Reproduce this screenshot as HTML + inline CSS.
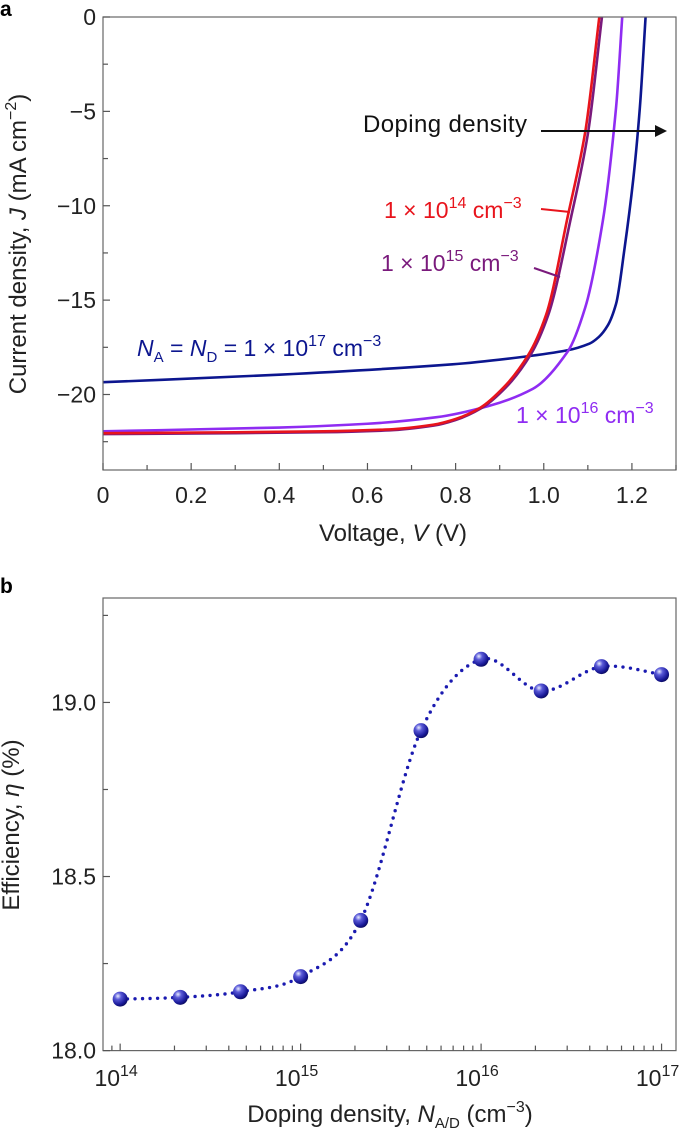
<!DOCTYPE html>
<html><head><meta charset="utf-8"><style>
html,body{margin:0;padding:0;background:#fff;}
svg{display:block;font-family:"Liberation Sans",sans-serif;}
</style></head><body>
<svg id="chart" width="685" height="1129" viewBox="0 0 685 1129" xmlns="http://www.w3.org/2000/svg">
<defs>
<radialGradient id="ball" cx="0.35" cy="0.3" r="0.75">
<stop offset="0" stop-color="#e8ecff"/><stop offset="0.3" stop-color="#5a5ad8"/><stop offset="0.75" stop-color="#1a1a9a"/><stop offset="1" stop-color="#0a0a5a"/>
</radialGradient>
</defs>
<text x="0" y="16" font-size="21" font-weight="bold">a</text>
<text x="0" y="593" font-size="21" font-weight="bold">b</text>
<g id="pa"></g>
<g id="pb"></g>
</svg>
<script>
// Panel a data
const redV=[0,0.3,0.5,0.65,0.75,0.8,0.856,0.91,0.965,1.005,1.055,1.094,1.126];
const redJ=[-22.05,-22.0,-21.95,-21.85,-21.6,-21.3,-20.7,-19.6,-17.9,-15.8,-10.5,-6.1,0];
const purpleV=[0,0.3,0.5,0.65,0.75,0.8,0.86,0.915,0.97,1.01,1.062,1.1,1.132];
const purpleJ=[-22.1,-22.05,-22.0,-21.9,-21.65,-21.35,-20.7,-19.6,-17.9,-15.8,-10.6,-6.2,0];
const violetV=[0,0.4,0.6,0.757,0.876,0.975,1.055,1.094,1.134,1.164,1.178];
const violetJ=[-21.95,-21.75,-21.55,-21.2,-20.6,-19.7,-17.7,-15.4,-10.8,-4.8,0];
const blueV=[0,0.4,0.793,0.955,1.055,1.104,1.125,1.145,1.164,1.183,1.203,1.218,1.231];
const blueJ=[-19.35,-18.95,-18.4,-18.0,-17.65,-17.3,-16.95,-16.35,-15.2,-12.3,-8.6,-4.8,0];
const aXTicks=[0,0.2,0.4,0.6,0.8,1.0,1.2];
const aXTickLabels=["0","0.2","0.4","0.6","0.8","1.0","1.2"];
const aYTicks=[0,-5,-10,-15,-20];
const aYTickLabels=["0","\u22125","\u221210","\u221215","\u221220"];
// Panel b data
const bLogN=[14,14.333,14.667,15,15.333,15.667,16,16.333,16.667,17];
const bEff=[18.148,18.153,18.169,18.2125,18.374,18.919,19.124,19.033,19.103,19.080];
const bYTicks=[18.0,18.5,19.0];
const bYTickLabels=["18.0","18.5","19.0"];
const bXTicks=[14,15,16,17];

const NS="http://www.w3.org/2000/svg";
function mk(parent,tag,attrs){const e=document.createElementNS(NS,tag);for(const k in attrs)e.setAttribute(k,attrs[k]);parent.appendChild(e);return e;}

// ---- Panel a ----
const pa=document.getElementById('pa');
const aL=103,aR=676,aT=17,aB=470;
const ax=v=>aL+(v-0)/1.3*(aR-aL);
const ay=j=>aT+(0-j)/24*(aB-aT);
function monotonePath(xs,ys){
  const n=xs.length,d=[],m=[];
  for(let i=0;i<n-1;i++)d.push((ys[i+1]-ys[i])/(xs[i+1]-xs[i]));
  m[0]=d[0];m[n-1]=d[n-2];
  for(let i=1;i<n-1;i++){m[i]=(d[i-1]*d[i]<=0)?0:3*(d[i-1]+d[i])/((2*d[i]+d[i-1])/d[i-1]+(d[i]+2*d[i-1])/d[i]);}
  let p=`M${xs[0]},${ys[0]}`;
  for(let i=0;i<n-1;i++){const h=xs[i+1]-xs[i];p+=` C${xs[i]+h/3},${ys[i]+m[i]*h/3} ${xs[i+1]-h/3},${ys[i+1]-m[i+1]*h/3} ${xs[i+1]},${ys[i+1]}`;}
  return p;
}
const series=[[blueV,blueJ,'#0c168f','curve-1e17'],[violetV,violetJ,'#8f2cf2','curve-1e16'],[purpleV,purpleJ,'#7a1a7c','curve-1e15'],[redV,redJ,'#e8141c','curve-1e14']];
series.forEach(s=>{
  const p=mk(pa,'path',{d:monotonePath(s[0].map(ax),s[1].map(ay)),fill:'none',stroke:s[2],'stroke-width':2.6});
  
  
});
const fa=mk(pa,'rect',{x:aL,y:aT,width:aR-aL,height:aB-aT,fill:'none',stroke:'#666','stroke-width':1.2});


for(let v=0;v<=1.3001;v+=0.1){const X=ax(v);const major=Math.abs(v*5-Math.round(v*5))<1e-6;mk(pa,'line',{x1:X,x2:X,y1:aB,y2:aB-(major?7:5),stroke:'#555','stroke-width':1.2});}
for(let j=0;j>=-22.5;j-=2.5){const Y=ay(j);const major=j%5===0;mk(pa,'line',{x1:aL,x2:aL+(major?7:5),y1:Y,y2:Y,stroke:'#555','stroke-width':1.2});}
aXTicks.forEach((v,i)=>{const t=mk(pa,'text',{x:ax(v),y:503,'font-size':23,'text-anchor':'middle',fill:'#222'});t.textContent=aXTickLabels[i];
 
 });
aYTicks.forEach((v,i)=>{const t=mk(pa,'text',{x:aL-7,y:ay(v)+8,'font-size':23,'text-anchor':'end',fill:'#222'});t.textContent=aYTickLabels[i];
 
 });

// ---- Panel b ----
const pb=document.getElementById('pb');
const bL=103,bR=676,bT=598,bB=1050.6;
const bx=l=>bL+(l-13.905)/(17.08-13.905)*(bR-bL);
const by=e=>bB-(e-18)/1.3*(bB-bT);
const fb=mk(pb,'rect',{x:bL,y:bT,width:bR-bL,height:bB-bT,fill:'none',stroke:'#666','stroke-width':1.2});


for(let d=13;d<=17;d++){for(let k=1;k<=9;k++){const l=d+Math.log10(k);if(l<13.905||l>17.08)continue;const X=bx(l);mk(pb,'line',{x1:X,x2:X,y1:bB,y2:bB-(k===1?7:5),stroke:'#555','stroke-width':1.2});}}
for(let e=18;e<=19.26;e+=0.25){const Y=by(e);const major=Math.abs(e*2-Math.round(e*2))<1e-6;mk(pb,'line',{x1:bL,x2:bL+(major?7:5),y1:Y,y2:Y,stroke:'#555','stroke-width':1.2});}
bYTicks.forEach((v,i)=>{const t=mk(pb,'text',{x:bL-7,y:by(v)+8,'font-size':23,'text-anchor':'end',fill:'#222'});t.textContent=bYTickLabels[i];
 
 });
bXTicks.forEach(l=>{const t=mk(pb,'text',{x:bx(l)-4,y:1086,'font-size':23,'text-anchor':'middle',fill:'#222'});
 
 
 const a=mk(t,'tspan',{});a.textContent='10';const b=mk(t,'tspan',{dy:-10,'font-size':16});b.textContent=String(l);});
// catmull-rom dotted curve
const px=bLogN.map(bx),py=bEff.map(by);
let dp=`M${px[0]},${py[0]}`;
for(let i=0;i<px.length-1;i++){const p0=i?i-1:0,p3=i+2<px.length?i+2:i+1;
 dp+=` C${px[i]+(px[i+1]-px[p0])/6},${py[i]+(py[i+1]-py[p0])/6} ${px[i+1]-(px[p3]-px[i])/6},${py[i+1]-(py[p3]-py[i])/6} ${px[i+1]},${py[i+1]}`;}
const dc=mk(pb,'path',{d:dp,fill:'none',stroke:'#1a1ab0','stroke-width':3.4,'stroke-linecap':'round','stroke-dasharray':'0 7.5'});


bLogN.forEach((l,i)=>{const c=mk(pb,'circle',{cx:bx(l),cy:by(bEff[i]),r:7.5,fill:'url(#ball)'});
 
 });
</script>
<svg style="position:absolute;left:0;top:0" width="685" height="1129" xmlns="http://www.w3.org/2000/svg" font-family="Liberation Sans, sans-serif">
<text x="363" y="132" font-size="24" fill="#111" textLength="164">Doping density</text>
<line x1="541" y1="131" x2="656" y2="131" stroke="#111" stroke-width="2"/>
<polygon points="667,131 655,125 655,137" fill="#111"/>
<text x="384" y="218" font-size="23" fill="#e8141c">1 × 10<tspan dy="-10" font-size="16">14</tspan><tspan dy="10"> cm</tspan><tspan dy="-10" font-size="16">−3</tspan></text>
<line x1="541" y1="209" x2="570" y2="212" stroke="#e8141c" stroke-width="2"/>
<text x="381" y="271" font-size="23" fill="#7a1a7c">1 × 10<tspan dy="-10" font-size="16">15</tspan><tspan dy="10"> cm</tspan><tspan dy="-10" font-size="16">−3</tspan></text>
<line x1="534" y1="268" x2="560" y2="277" stroke="#7a1a7c" stroke-width="2"/>
<text x="137" y="356" font-size="23" fill="#0c168f"><tspan font-style="italic">N</tspan><tspan dy="6" font-size="15">A</tspan><tspan dy="-6"> = </tspan><tspan font-style="italic">N</tspan><tspan dy="6" font-size="15">D</tspan><tspan dy="-6"> = 1 × 10</tspan><tspan dy="-10" font-size="16">17</tspan><tspan dy="10"> cm</tspan><tspan dy="-10" font-size="16">−3</tspan></text>
<text x="516" y="423" font-size="23" fill="#8f2cf2">1 × 10<tspan dy="-10" font-size="16">16</tspan><tspan dy="10"> cm</tspan><tspan dy="-10" font-size="16">−3</tspan></text>
<text x="393" y="541" font-size="24" fill="#222" text-anchor="middle">Voltage, <tspan font-style="italic">V</tspan> (V)</text>
<text transform="translate(26,244) rotate(-90)" font-size="24" fill="#222" text-anchor="middle">Current density, <tspan font-style="italic">J</tspan> (mA cm<tspan dy="-10" font-size="16">−2</tspan><tspan dy="10">)</tspan></text>
<text x="390" y="1122" font-size="24" fill="#222" text-anchor="middle">Doping density, <tspan font-style="italic">N</tspan><tspan dy="6" font-size="15">A/D</tspan><tspan dy="-6"> (cm</tspan><tspan dy="-10" font-size="16">−3</tspan><tspan dy="10">)</tspan></text>
<text transform="translate(19,825) rotate(-90)" font-size="24" fill="#222" text-anchor="middle">Efficiency, <tspan font-style="italic">η</tspan> (%)</text>
</svg>
</body></html>
